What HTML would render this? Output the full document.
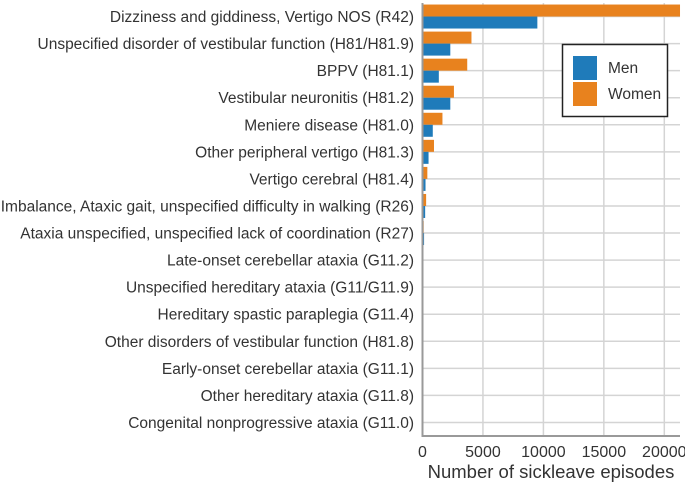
<!DOCTYPE html>
<html><head><meta charset="utf-8"><style>
body{margin:0;background:#fff;}
svg{display:block;font-family:"Liberation Sans",sans-serif;}
</style></head><body>
<svg id="chart" width="685" height="485"></svg>
<script>
const categories=["Dizziness and giddiness, Vertigo NOS (R42)","Unspecified disorder of vestibular function (H81/H81.9)","BPPV (H81.1)","Vestibular neuronitis (H81.2)","Meniere disease (H81.0)","Other peripheral vertigo (H81.3)","Vertigo cerebral (H81.4)","Imbalance, Ataxic gait, unspecified difficulty in walking (R26)","Ataxia unspecified, unspecified lack of coordination (R27)","Late-onset cerebellar ataxia (G11.2)","Unspecified hereditary ataxia (G11/G11.9)","Hereditary spastic paraplegia (G11.4)","Other disorders of vestibular function (H81.8)","Early-onset cerebellar ataxia (G11.1)","Other hereditary ataxia (G11.8)","Congenital nonprogressive ataxia (G11.0)"];
const men=[9500,2300,1350,2300,850,500,250,220,130,80,60,50,60,20,10,5];
const women=[21300,4050,3700,2600,1650,950,400,300,100,60,50,60,50,40,10,5];
const ticks=[0,5000,10000,15000,20000];
const NS="http://www.w3.org/2000/svg";
const svg=document.getElementById('chart');
const L=422.5,R=680,T=3,B=436;
const pxPer=60.45/5000;
const x=v=>L+v*pxPer;
const band=(B-T)/categories.length;
const yc=i=>T+band*(i+0.5);
function mk(t,a,p){const e=document.createElementNS(NS,t);for(const k in a)e.setAttribute(k,a[k]);(p||svg).appendChild(e);return e;}
ticks.forEach(t=>{
 const g=mk('line',{x1:x(t),x2:x(t),y1:T,y2:B,stroke:'#d4d4d4','stroke-width':1.5});
 
 
 const tl=mk('text',{x:x(t),y:457,'text-anchor':'middle','font-size':16,fill:'#333'});
 tl.textContent=t;
 
 
});
categories.forEach((c,i)=>{
 const g=mk('line',{x1:L,x2:R,y1:yc(i),y2:yc(i),stroke:'#d4d4d4','stroke-width':1.5});
 
 
});
const bh=12;
categories.forEach((c,i)=>{
 const w=mk('rect',{x:x(0),y:yc(i)-bh,width:x(women[i])-x(0),height:bh,fill:'#e8821e'});
 
 
 const m=mk('rect',{x:x(0),y:yc(i),width:x(men[i])-x(0),height:bh,fill:'#1f7bba'});
 
 
 const t=mk('text',{x:414,y:yc(i)+5.5,'text-anchor':'end','font-size':15.5,fill:'#333'});
 t.textContent=c;
 
 
});
let s=mk('line',{x1:L,x2:L,y1:T,y2:B+1,stroke:'#999','stroke-width':2});


s=mk('line',{x1:L,x2:R,y1:B,y2:B,stroke:'#999','stroke-width':2});


const xt=mk('text',{x:551,y:478,'text-anchor':'middle','font-size':18.5,fill:'#333'});
xt.textContent='Number of sickleave episodes';


const lg=mk('g',{});


mk('rect',{x:562.5,y:44.5,width:105,height:72,fill:'#fff',stroke:'#222','stroke-width':1.5},lg);
[['Men','#1f7bba',56],['Women','#e8821e',82]].forEach(([n,c,yy])=>{
 const e=mk('g',{},lg);
 
 
 mk('rect',{x:573,y:yy,width:24,height:24,fill:c},e);
 const t=mk('text',{x:608,y:yy+17,'font-size':15.5,fill:'#333'},e);t.textContent=n;
});
</script>
</body></html>
